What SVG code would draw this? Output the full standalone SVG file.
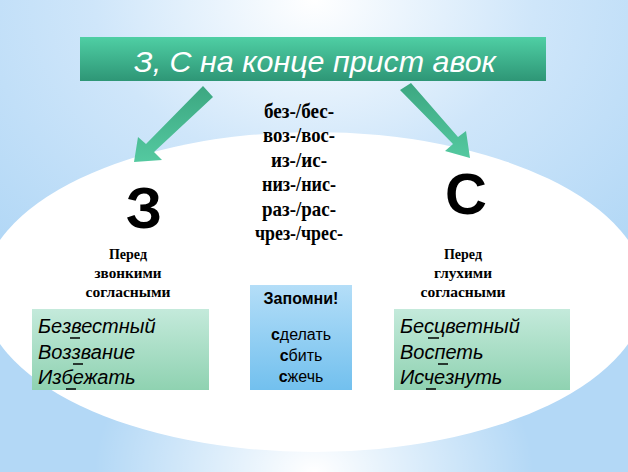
<svg xmlns="http://www.w3.org/2000/svg" width="628" height="472" viewBox="0 0 628 472">
<defs>
<radialGradient id="bg" cx="0.5" cy="0" r="0.7"><stop offset="0" stop-color="#ffffff"/><stop offset="0.5" stop-color="#cfe6fa"/><stop offset="1" stop-color="#b3d8f6"/></radialGradient>
<radialGradient id="bg2" cx="0.5" cy="1" r="0.35"><stop offset="0" stop-color="#ffffff"/><stop offset="1" stop-color="#ffffff" stop-opacity="0"/></radialGradient>
<linearGradient id="title" x1="0" y1="0" x2="0" y2="1"><stop offset="0" stop-color="#4fcfa4"/><stop offset="1" stop-color="#2e9676"/></linearGradient>
<linearGradient id="green" x1="0" y1="0" x2="0" y2="1"><stop offset="0" stop-color="#c4eadb"/><stop offset="1" stop-color="#8fd2b1"/></linearGradient>
<linearGradient id="blue" x1="0" y1="0" x2="0" y2="1"><stop offset="0" stop-color="#b4def8"/><stop offset="1" stop-color="#72c0ee"/></linearGradient>
<linearGradient id="arr" x1="0" y1="0" x2="0" y2="1"><stop offset="0" stop-color="#3ca781"/><stop offset="1" stop-color="#54c9a0"/></linearGradient>
<style>
.pre{font-family:"Liberation Serif",serif;font-weight:bold;font-size:21px;text-anchor:middle}
.lab{font-family:"Liberation Serif",serif;font-weight:bold;font-size:14px;text-anchor:middle}
.big{font-family:"Liberation Sans",sans-serif;font-weight:bold;font-size:58px;text-anchor:middle}
.ex{font-family:"Liberation Sans",sans-serif;font-style:italic;font-size:20px}
.mem{font-family:"Liberation Sans",sans-serif;font-size:16px;text-anchor:middle}
</style>
</defs>
<rect width="628" height="472" fill="url(#bg)"/>
<rect width="628" height="472" fill="url(#bg2)"/>
<ellipse cx="314" cy="292" rx="332" ry="160" fill="#ffffff"/>
<g id="title-node">
<rect x="80" y="37" width="466" height="44" fill="url(#title)"/>
<text x="134" y="72" font-family="Liberation Sans,sans-serif" font-style="italic" font-size="30" fill="#ffffff" textLength="362" lengthAdjust="spacingAndGlyphs">З, С на конце прист  авок</text>
</g>
<g id="connectors">
<polygon points="203,86 213,97 154,152 162,160 134,162 138,137 146,144" fill="url(#arr)"/>
<polygon points="400,90 411,83 458,137 466,131 470,158 445,151 453,144" fill="url(#arr)"/>
</g>
<g id="prefixes">
<text class="pre" x="299" y="118" textLength="70" lengthAdjust="spacingAndGlyphs">без-/бес-</text>
<text class="pre" x="299" y="142" textLength="72" lengthAdjust="spacingAndGlyphs">воз-/вос-</text>
<text class="pre" x="299" y="167" textLength="56" lengthAdjust="spacingAndGlyphs">из-/ис-</text>
<text class="pre" x="299" y="191" textLength="74" lengthAdjust="spacingAndGlyphs">низ-/нис-</text>
<text class="pre" x="299" y="216" textLength="74" lengthAdjust="spacingAndGlyphs">раз-/рас-</text>
<text class="pre" x="299" y="240" textLength="88" lengthAdjust="spacingAndGlyphs">чрез-/чрес-</text>
</g>
<g id="z-node">
<text class="big" x="144" y="228">З</text>
<text class="lab" x="128" y="259">Перед</text>
<text class="lab" x="128" y="278" textLength="67" lengthAdjust="spacingAndGlyphs">звонкими</text>
<text class="lab" x="128" y="297" textLength="85" lengthAdjust="spacingAndGlyphs">согласными</text>
<rect x="32" y="309" width="177" height="81" fill="url(#green)"/>
<text class="ex" x="38" y="333">Безвестный</text>
<text class="ex" x="38" y="359">Воззвание</text>
<text class="ex" x="38" y="384">Избежать</text>
<g stroke="#000" stroke-width="1.5"><line x1="70" y1="338" x2="80" y2="338"/><line x1="73" y1="364" x2="83" y2="364"/><line x1="66" y1="389" x2="76" y2="389"/></g>
</g>
<g id="remember-node">
<rect x="250" y="285" width="102" height="105" fill="url(#blue)"/>
<text class="mem" x="301" y="304" font-weight="bold" font-size="14">Запомни!</text>
<text class="mem" x="301" y="340"><tspan font-weight="bold">с</tspan>делать</text>
<text class="mem" x="301" y="361"><tspan font-weight="bold">с</tspan>бить</text>
<text class="mem" x="301" y="382"><tspan font-weight="bold">с</tspan>жечь</text>
</g>
<g id="s-node">
<text class="big" x="466" y="214">С</text>
<text class="lab" x="463" y="259">Перед</text>
<text class="lab" x="463" y="278" textLength="58" lengthAdjust="spacingAndGlyphs">глухими</text>
<text class="lab" x="463" y="297" textLength="85" lengthAdjust="spacingAndGlyphs">согласными</text>
<rect x="394" y="309" width="176" height="81" fill="url(#green)"/>
<text class="ex" x="400" y="333">Бесцветный</text>
<text class="ex" x="400" y="359">Воспеть</text>
<text class="ex" x="400" y="384">Исчезнуть</text>
<g stroke="#000" stroke-width="1.5"><line x1="428" y1="338" x2="439" y2="338"/><line x1="438" y1="364" x2="448" y2="364"/><line x1="426" y1="389" x2="436" y2="389"/></g>
</g>
</svg>
